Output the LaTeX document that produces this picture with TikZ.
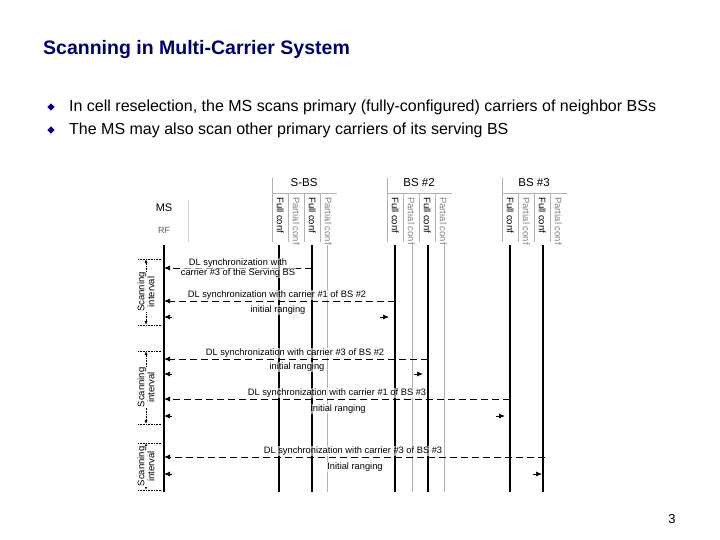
\documentclass[tikz,border=0pt]{standalone}
\usepackage{fontspec}
\setmainfont{Liberation Sans}
\usetikzlibrary{arrows.meta}
\begin{document}
\begin{tikzpicture}[x=1pt,y=-1pt,
  lbl/.style={font=\fontsize{9.3}{10.5}\selectfont,inner sep=0.5pt,fill=white,fill opacity=0.6,text opacity=1},
  col/.style={font=\fontsize{9.5}{10}\selectfont,rotate=-90,anchor=north west,inner sep=0},
  life/.style={line width=1.2pt},
  plife/.style={line width=0.8pt,gray!60},
  msg/.style={dashed,dash pattern=on 7pt off 4pt,line width=0.7pt,-{Latex[length=6pt,width=5pt]}},
  rng/.style={line width=0.7pt,-{Latex[length=6pt,width=5pt]}},
  brk/.style={densely dotted,line width=0.6pt},
  body/.style={font=\fontsize{16}{18}\selectfont,anchor=west,inner sep=0}]
\useasboundingbox (0,0) rectangle (720,540);
\node[anchor=west,inner sep=0,font=\fontsize{19.5}{22}\bfseries,text=blue!40!black] (title) at (43,50) {Scanning in Multi-Carrier System};
\foreach \y/\n in {107/b1,130/b2}{\node[fill=blue!50!black,rotate=45,minimum size=5pt,inner sep=0] (\n) at (51,\y) {};}
\node[body] (t1) at (69,107) {In cell reselection, the MS scans primary (fully-configured) carriers of neighbor BSs};
\node[body] (t2) at (69,130) {The MS may also scan other primary carriers of its serving BS};
\node[font=\fontsize{13}{15}\selectfont] (pg) at (672,519) {3};
% headers
\foreach \x/\w/\t/\n in {272/65/S-BS/h1,387/65/BS \#2/h2,502/65/BS \#3/h3}{
  \draw[gray!60,line width=0.6pt] (\x,178) -- (\x,242);
  \draw[gray!60,line width=0.6pt] (\x,193) -- (\x+\w,193);
  \node[font=\fontsize{11.5}{13}\selectfont] (\n) at (\x+32,183) {\t};
  \foreach \s in {16,32,48}{\draw[gray!60,line width=0.5pt] (\x+\s,193) -- (\x+\s,242);}
  \node[col] at (\x+12,197) {Full conf};
  \node[col,gray] at (\x+28,197) {Partial conf};
  \node[col] at (\x+44,197) {Full conf};
  \node[col,gray] at (\x+60,197) {Partial conf};
}
\node[font=\fontsize{11}{13}\selectfont] (ms) at (164,208) {MS};
\node[font=\fontsize{9}{10}\selectfont,gray!70!black] (rf) at (164,230) {RF};
\draw[gray!40,line width=0.6pt] (188,200) -- (188,242);
% lifelines
\coordinate (m0) at (164,245); \coordinate (m1) at (164,492);
\draw[life] (m0) -- (m1);
\foreach \x/\st in {279/life,312/life,327/plife,395/life,412/plife,428/life,444/plife,510/life,543/life}{
  \draw[\st] (\x,245) -- (\x,492);}
% messages
\foreach \y/\x in {268/312,301/395,359/428,399/510,457/545}{
  \coordinate (s\y) at (\x,\y); \coordinate (d\y) at (164,\y);
  \draw[msg] (s\y) -- (d\y);}
\node[lbl,align=center] (l1) at (238,268) {DL synchronization with\\carrier \#3 of the Serving BS};
\node[lbl] (l2) at (277,295) {DL synchronization with carrier \#1 of BS \#2};
\node[lbl] (l4) at (295,353) {DL synchronization with carrier \#3 of BS \#2};
\node[lbl] (l6) at (337,393) {DL synchronization with carrier \#1 of BS \#3};
\node[lbl] (l8) at (353,451) {DL synchronization with carrier \#3 of BS \#3};
\foreach \y/\x/\lx/\t in {317/389/278/initial ranging,374/423/297/initial ranging,416/505/338/Initial ranging,474/542/355/Initial ranging}{
  \coordinate (a\y) at (172,\y); \coordinate (b\y) at (164,\y);
  \coordinate (c\y) at (\x-9,\y); \coordinate (e\y) at (\x,\y);
  \draw[rng] (a\y) -- (b\y); \draw[rng] (c\y) -- (e\y);
  \node[lbl] at (\lx,\y-7) {\t};}
% scanning intervals
\foreach \ya/\yb/\n in {259/325/k1,351/424/k2,443/490/k3}{
  \coordinate (p\n) at (138,\ya); \coordinate (q\n) at (138,\yb);
  \draw[brk] (p\n) -- ++(24,0); \draw[brk] (q\n) -- ++(24,0);
  \draw[brk,{Latex[length=4pt,width=3pt]}-{Latex[length=4pt,width=3pt]}] (146,\ya) -- (146,\yb);
  \node[font=\fontsize{9.5}{10}\selectfont,rotate=90,align=center,fill=white,inner sep=0.5pt] at (146,{(\ya+\yb)/2}) {Scanning\\interval};}
\end{tikzpicture}
\end{document}
